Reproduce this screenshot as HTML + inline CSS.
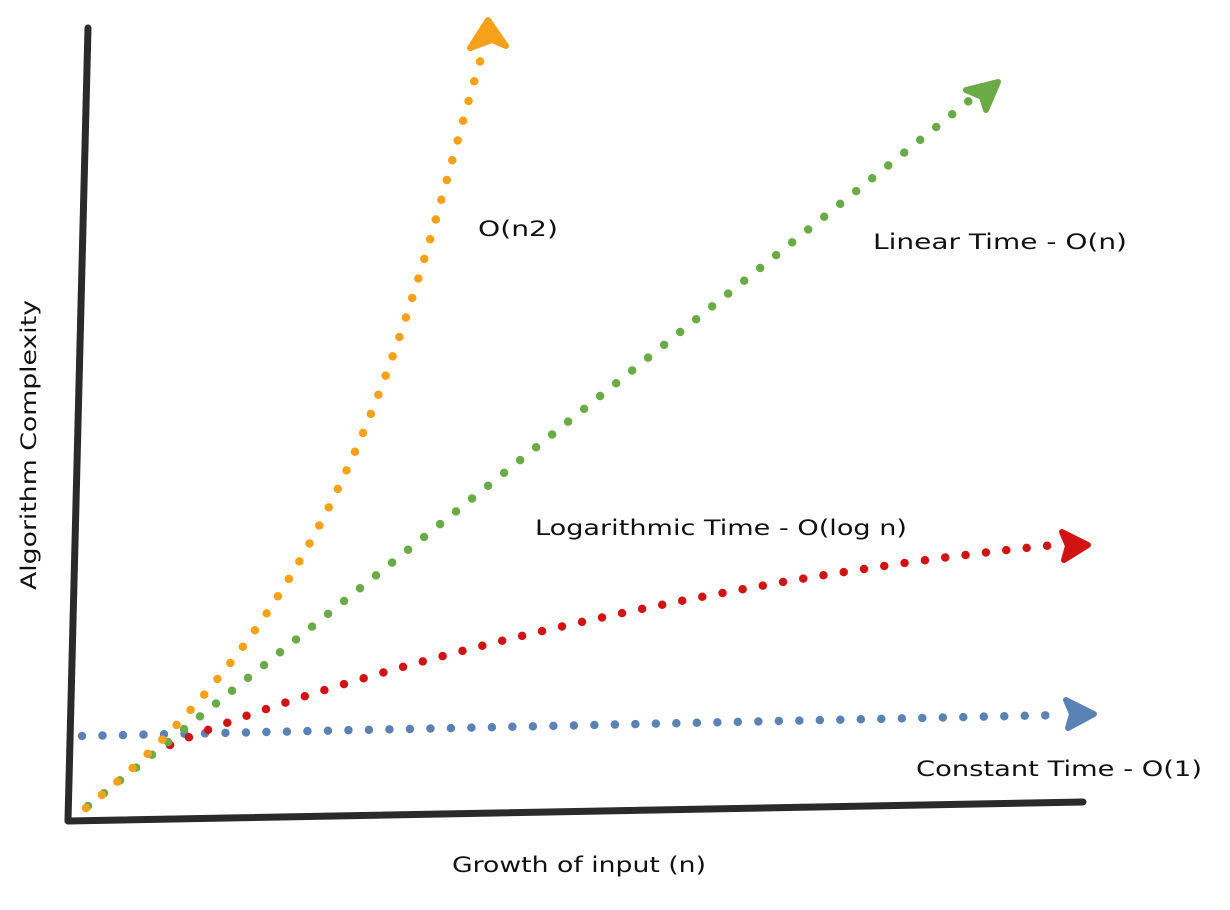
<!DOCTYPE html>
<html><head><style>
html,body{margin:0;padding:0;background:#fff;}
svg{display:block;}
text{font-family:"DejaVu Sans","Liberation Sans",sans-serif;font-size:21px;fill:#111;}
</style></head><body>
<svg width="1230" height="910" viewBox="0 0 1230 910" xmlns="http://www.w3.org/2000/svg">
<g fill="none" stroke-linecap="round" stroke-width="8.5" stroke-dasharray="0 20.5">
<path d="M82,736 L1060,715" stroke="#5b82b5"/>
<path d="M170,745 C350,670 700,580 1055,545" stroke="#d01414"/>
<path d="M88,806 L975,96" stroke="#6aaa47"/>
<path d="M86,808 C220,700 300,580 360,440 S450,160 482,55" stroke="#f7a01a"/>
</g>
<g stroke-linejoin="round">
<path d="M470,48 L488,20 L506,46 L492,40 Z" fill="#f7a01a" stroke="#f7a01a" stroke-width="6"/>
<path d="M966,90 L998,82 L986,110 L982,97 Z" fill="#6aaa47" stroke="#6aaa47" stroke-width="6"/>
<path d="M1062,532 L1088,545 L1064,560 L1068,546 Z" fill="#d01414" stroke="#d01414" stroke-width="6"/>
<path d="M1066,700 L1094,714 L1068,728 L1072,714 Z" fill="#5b82b5" stroke="#5b82b5" stroke-width="6"/>
</g>
<g stroke="#2a2a2a" stroke-width="7" stroke-linecap="round" fill="none">
<path d="M88,28 L68,820"/>
<path d="M68,821 L1083,802"/>
</g>
<text x="478" y="236" textLength="80" lengthAdjust="spacingAndGlyphs">O(n2)</text>
<text x="873" y="249" textLength="254" lengthAdjust="spacingAndGlyphs">Linear Time - O(n)</text>
<text x="535" y="535" textLength="372" lengthAdjust="spacingAndGlyphs">Logarithmic Time - O(log n)</text>
<text x="916" y="776" textLength="286" lengthAdjust="spacingAndGlyphs">Constant Time - O(1)</text>
<text x="452" y="872" textLength="254" lengthAdjust="spacingAndGlyphs">Growth of input (n)</text>
<text transform="translate(36,590) rotate(-90)" textLength="290" lengthAdjust="spacingAndGlyphs">Algorithm Complexity</text>
</svg>
</body></html>
